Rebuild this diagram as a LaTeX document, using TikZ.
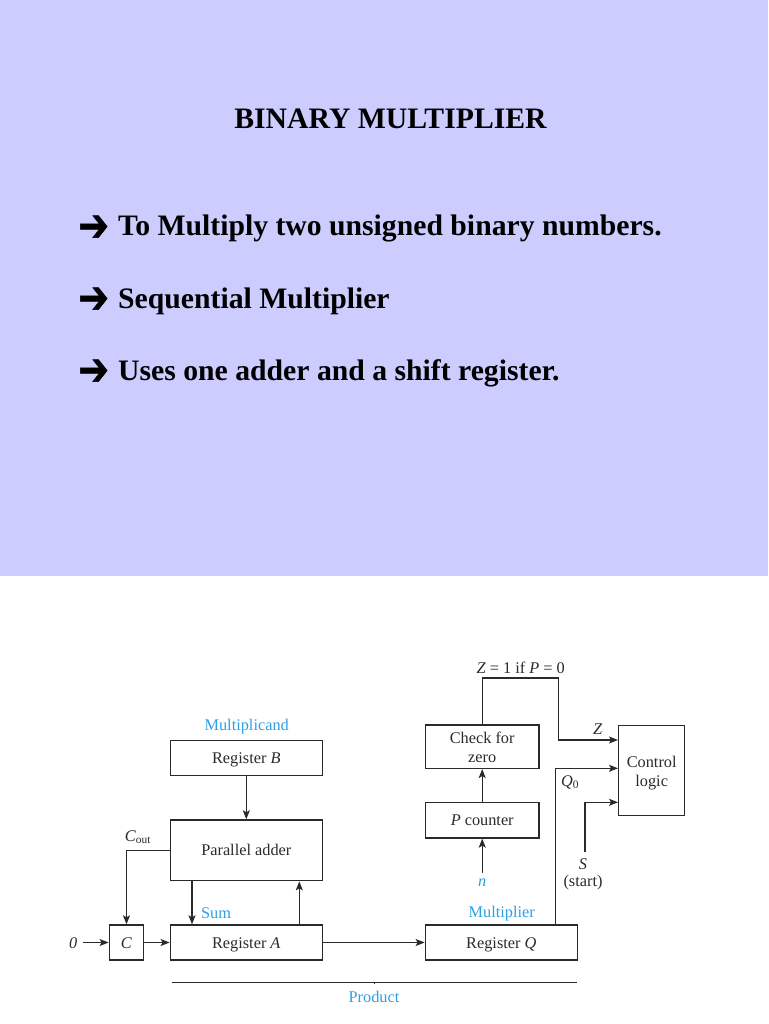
\documentclass[tikz,border=0pt]{standalone}
\usepackage{fontspec}
\setmainfont{Liberation Serif}
\newfontfamily\symfont[FakeBold=1,FakeStretch=0.8]{DejaVu Sans}
\usetikzlibrary{arrows.meta,calc}
\definecolor{slidebg}{HTML}{CCCCFF}
\definecolor{lblue}{HTML}{2C9FE6}
\definecolor{ink}{HTML}{2A2A2A}
\tikzset{
  ttl/.style={font=\fontsize{29.7}{34}\selectfont\bfseries,text=black,inner sep=0,anchor=base west},
  bul/.style={font=\fontsize{46}{50}\selectfont\symfont,text=black,inner sep=0,anchor=base west},
  blk/.style={draw=ink,line width=1.4pt,rectangle,inner sep=0,align=center,font=\fontsize{16.3}{19}\selectfont,text=ink},
  one/.style={blk,text height=14pt,text depth=3pt},
  lbl/.style={inner sep=0,font=\fontsize{16.3}{19}\selectfont,text=ink,align=center},
  blu/.style={inner sep=0,font=\fontsize{16.3}{19}\selectfont,text=lblue},
  wire/.style={draw=ink,line width=1.2pt},
  arr/.style={wire,-{Stealth[length=9pt,width=7pt,inset=2pt]}}
}
\begin{document}
\begin{tikzpicture}[x=1pt,y=-1pt]
\useasboundingbox (0,0) rectangle (768,1024);
\fill[slidebg] (0,0) rectangle (768,576);
\node[ttl,anchor=base] (title) at (390.5,129) {BINARY MULTIPLIER};
\node[bul] (b1) at (78,241) {➔};
\node[ttl] (t1) at (118,236) {To Multiply two unsigned binary numbers.};
\node[bul] (b2) at (78,313) {➔};
\node[ttl] (t2) at (118,308) {Sequential Multiplier};
\node[bul] (b3) at (78,385) {➔};
\node[ttl] (t3) at (118,380) {Uses one adder and a shift register.};

\node[one,minimum width=152pt,minimum height=35pt] (regB) at (246.3,758.2) {Register \textit{B}};
\node[one,minimum width=152pt,minimum height=60.7pt] (adder) at (246.3,850.3) {Parallel adder};
\node[one,minimum width=152pt,minimum height=35pt] (regA) at (246.3,942.5) {Register \textit{A}};
\node[one,minimum width=34.4pt,minimum height=35pt] (cbox) at (126.5,942.5) {\textit{C}};
\node[one,minimum width=152pt,minimum height=35pt] (regQ) at (501.3,942.5) {Register \textit{Q}};
\node[blk,minimum width=113.7pt,minimum height=43.3pt] (check) at (482.2,746.7) {\rule{0pt}{13pt}Check for\\zero};
\node[one,minimum width=113.7pt,minimum height=35.3pt] (pctr) at (482.2,820.3) {\textit{P} counter};
\node[blk,minimum width=66pt,minimum height=90pt] (ctrl) at (651.7,770.7) {\rule{0pt}{16pt}Control\\logic};

\node[blu] (mcand) at (246.7,726.5) {Multiplicand};
\node[blu] (sum) at (216,913.5) {Sum};
\node[blu] (mplier) at (501.7,914) {Multiplier};
\node[blu] (prod) at (374,996.5) {Product};
\node[blu] (nlab) at (482.3,882.5) {\textit{n}};
\node[lbl] (zero) at (73.3,943) {\textit{0}};
\node[lbl] (cout) at (138,837) {\textit{C}\textsubscript{out}};
\node[lbl] (zeq) at (520.7,668) {\textit{Z} = 1 if \textit{P} = 0};
\node[lbl] (zl) at (597.7,729.5) {\textit{Z}};
\node[lbl] (q0) at (570,782) {\textit{Q}\textsubscript{0}};
\node[lbl] (sl) at (583,864) {\textit{S}};
\node[lbl] (st) at (583,882.5) {(start)};

\coordinate (zstart) at (83,942.5);
\coordinate (nstart) at (482.2,872.5);
\coordinate (sstart) at (585,851.5);
\coordinate (bl) at (171.5,982);
\coordinate (bm) at (374.5,982);
\coordinate (br) at (577,982);

\draw[arr] (regB) -- (adder);
\draw[arr] (zstart) -- (cbox);
\draw[arr] (cbox) -- (regA);
\draw[arr] (adder.west) -| (cbox.north);
\draw[arr] ($(adder.south west)+(22.4,0)$) -- ($(regA.north west)+(22.4,0)$);
\draw[arr] ($(regA.north west)+(129.7,0)$) -- ($(adder.south west)+(129.7,0)$);
\draw[arr] (regA) -- (regQ);
\draw[arr] (nstart) -- (pctr.south);
\draw[arr] (pctr) -- (check);
\draw[arr] (check.north) |- (558.3,678) |- (ctrl.west |- 0,740);
\draw[arr] ($(regQ.north west)+(131,0)$) |- (ctrl.west |- 0,768.3);
\draw[arr] (sstart) |- (ctrl.west |- 0,802.3);
\draw[draw=ink,line width=1pt] (bl) -- (bm) -- (br);
\draw[draw=ink,line width=0.6pt] (bm) -- ++(0,1.6);
\end{tikzpicture}
\end{document}
